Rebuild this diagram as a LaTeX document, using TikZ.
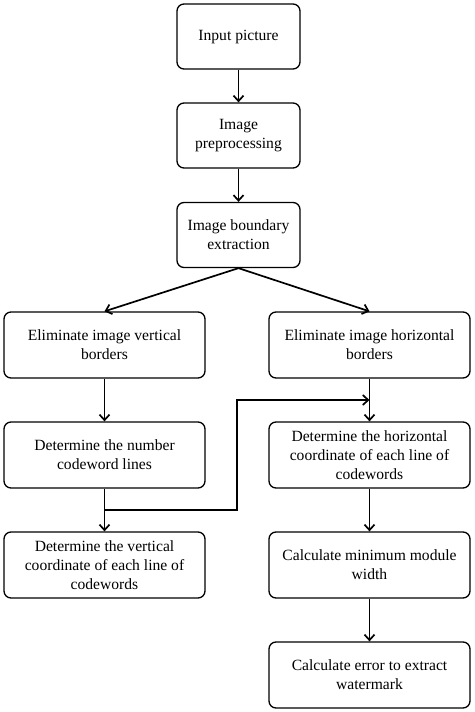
\documentclass[tikz,border=0pt]{standalone}
\usepackage{fontspec}
\setmainfont{Liberation Serif}
\usetikzlibrary{arrows.meta}
\begin{document}
\begin{tikzpicture}[x=1pt,y=-1pt,
  box/.style={draw, line width=1.3pt, rounded corners=7pt, align=center,
    inner sep=2pt, font=\fontsize{15.6}{19}\selectfont},
  smallbox/.style={box, minimum width=123pt, minimum height=65pt},
  widebox/.style={box, minimum width=201pt, minimum height=66pt},
  arr/.style={line width=1.7pt, -{Straight Barb[length=5.5pt,width=10pt,line width=1.7pt]}},
  ln/.style={line width=1.7pt}]
\useasboundingbox (0,0) rectangle (474,712);
\node[smallbox] (b1) at (238.5,36.5) {Input picture};
\node[smallbox] (b2) at (238.5,135.5) {Image\\preprocessing};
\node[smallbox] (b3) at (238.5,235) {Image boundary\\extraction};
\node[widebox] (b4) at (104.5,345) {Eliminate image vertical\\borders};
\node[widebox] (b5) at (369.5,345) {Eliminate image horizontal\\borders};
\node[widebox] (b6) at (104.5,455) {Determine the number\\codeword lines};
\node[widebox] (b7) at (369.5,455) {Determine the horizontal\\coordinate of each line of\\codewords};
\node[widebox] (b8) at (104.5,565) {Determine the vertical\\coordinate of each line of\\codewords};
\node[widebox] (b9) at (369.5,565) {Calculate minimum module\\width};
\node[widebox] (b10) at (369.5,675) {Calculate error to extract\\watermark};
\coordinate (j1) at (104.5,510);
\coordinate (j2) at (237,510);
\coordinate (j3) at (237,400);
\coordinate (j4) at (369.5,400);
\draw[arr] (b1) -- (b2);
\draw[arr] (b2) -- (b3);
\draw[arr] (b3.south) -- (b4.north);
\draw[arr] (b3.south) -- (b5.north);
\draw[arr] (b4) -- (b6);
\draw[arr] (b5) -- (b7);
\draw[arr] (b6) -- (b8);
\draw[arr] (b7) -- (b9);
\draw[arr] (b9) -- (b10);
\draw[arr] (j1) -- (j2) -- (j3) -- (j4);
\end{tikzpicture}
\end{document}
